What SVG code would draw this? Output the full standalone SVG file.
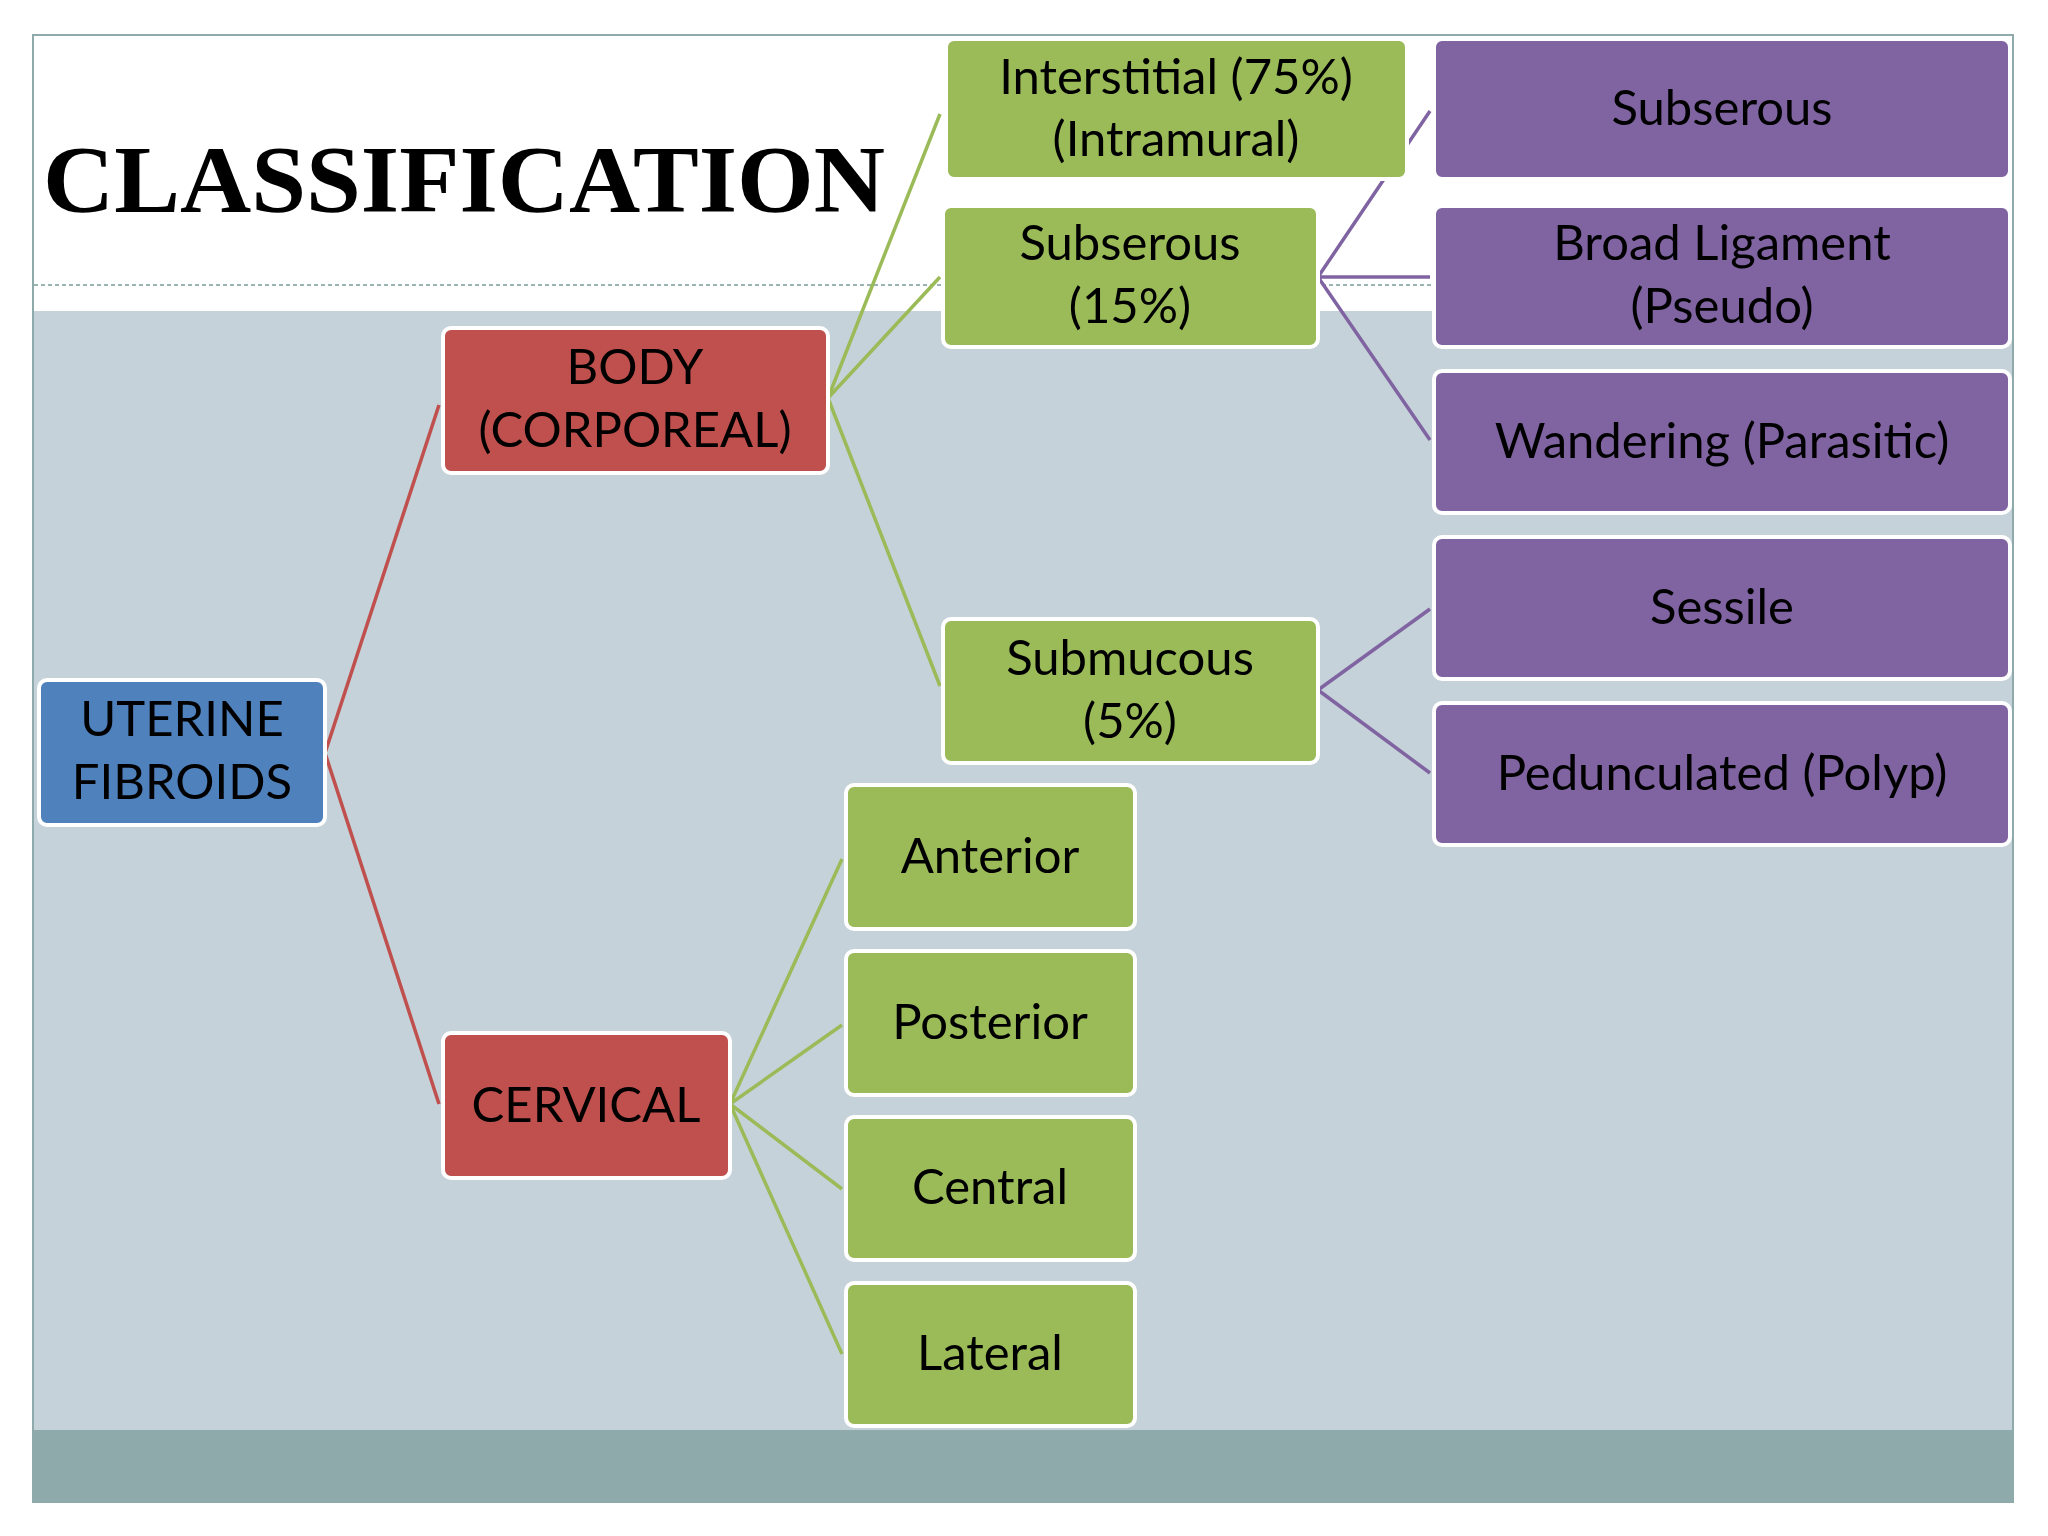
<svg xmlns="http://www.w3.org/2000/svg" width="2048" height="1536" viewBox="0 0 2048 1536">
<style>
.n{stroke:#fff;stroke-width:4}
.b{fill:#4F81BD}.r{fill:#C0504D}.g{fill:#9BBB59}.p{fill:#8064A2}
text{font-family:Lato,"Open Sans",sans-serif;font-size:49px;fill:#000;text-anchor:middle}
.c path{fill:none;stroke-width:3.5}
</style>
<rect x="0" y="0" width="2048" height="1536" fill="#fff"/>
<rect x="33" y="35" width="1980" height="1467" fill="#C5D2D9" stroke="#8EAAAA" stroke-width="2"/>
<rect x="34" y="36" width="1978" height="275" fill="#fff"/>
<line x1="34" y1="285" x2="2012" y2="285" stroke="#7A9A9A" stroke-width="1.5" stroke-dasharray="4 3"/>
<rect x="34" y="1430" width="1978" height="71" fill="#8EAAAA"/>
<text x="43" y="212" style="font-family:'Liberation Serif',serif;font-weight:bold;font-size:96px;text-anchor:start" textLength="842" lengthAdjust="spacingAndGlyphs">CLASSIFICATION</text>
<g class="c">
<path stroke="#C0504D" d="M325 753L439 405M325 753L439 1104"/>
<path stroke="#9BBB59" d="M828 398L940 114M828 398L940 277M828 398L940 686M730 1104L842 859M730 1104L842 1025M730 1104L842 1189M730 1104L842 1354"/>
<path stroke="#8064A2" d="M1318 277L1430 111M1318 277L1430 277M1318 277L1430 440M1318 690L1430 609M1318 690L1430 773"/>
</g>
<g id="uterine"><rect class="n b" x="39" y="680" width="286" height="145" rx="8"/><text x="182" y="736">UTERINE</text><text x="182" y="799">FIBROIDS</text></g>
<g id="body"><rect class="n r" x="443" y="328" width="385" height="145" rx="8"/><text x="635" y="384">BODY</text><text x="635" y="447">(CORPOREAL)</text></g>
<g id="cervical"><rect class="n r" x="443" y="1033" width="287" height="145" rx="8"/><text x="586" y="1122">CERVICAL</text></g>
<g id="interstitial"><rect class="n g" x="946" y="39" width="461" height="140" rx="8"/><text x="1176" y="94">Interstitial (75%)</text><text x="1176" y="156">(Intramural)</text></g>
<g id="subserous15"><rect class="n g" x="943" y="206" width="375" height="141" rx="8"/><text x="1130" y="260">Subserous</text><text x="1130" y="323">(15%)</text></g>
<g id="submucous"><rect class="n g" x="943" y="619" width="375" height="144" rx="8"/><text x="1130" y="675">Submucous</text><text x="1130" y="738">(5%)</text></g>
<g id="anterior"><rect class="n g" x="846" y="785" width="289" height="144" rx="8"/><text x="990" y="873">Anterior</text></g>
<g id="posterior"><rect class="n g" x="846" y="951" width="289" height="144" rx="8"/><text x="990" y="1039">Posterior</text></g>
<g id="central"><rect class="n g" x="846" y="1117" width="289" height="143" rx="8"/><text x="990" y="1204">Central</text></g>
<g id="lateral"><rect class="n g" x="846" y="1283" width="289" height="143" rx="8"/><text x="990" y="1370">Lateral</text></g>
<g id="subserous"><rect class="n p" x="1434" y="39" width="576" height="140" rx="8"/><text x="1722" y="125">Subserous</text></g>
<g id="broad"><rect class="n p" x="1434" y="206" width="576" height="141" rx="8"/><text x="1722" y="260">Broad Ligament</text><text x="1722" y="323">(Pseudo)</text></g>
<g id="wandering"><rect class="n p" x="1434" y="371" width="576" height="142" rx="8"/><text x="1722" y="458">Wandering (Parasitic)</text></g>
<g id="sessile"><rect class="n p" x="1434" y="537" width="576" height="142" rx="8"/><text x="1722" y="624">Sessile</text></g>
<g id="pedunculated"><rect class="n p" x="1434" y="703" width="576" height="142" rx="8"/><text x="1722" y="790">Pedunculated (Polyp)</text></g>
</svg>
